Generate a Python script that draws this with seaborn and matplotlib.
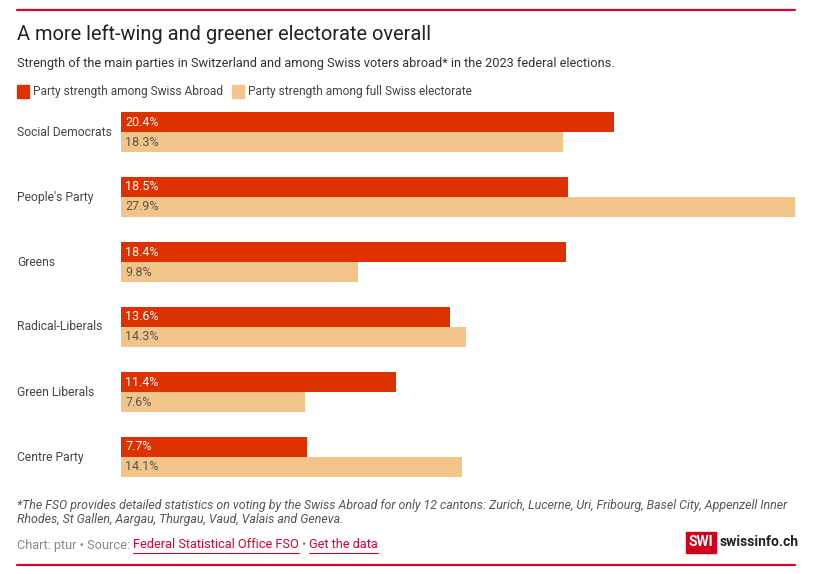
import pandas as pd
import numpy as np
import matplotlib.pyplot as plt
import seaborn as sns
from matplotlib.patches import Rectangle
from matplotlib.lines import Line2D

# Data
parties = ['Social Democrats', "People's Party", 'Greens', 'Radical-Liberals',
           'Green Liberals', 'Centre Party']
abroad = [20.4, 18.5, 18.4, 13.6, 11.4, 7.7]
full = [18.3, 27.9, 9.8, 14.3, 7.6, 14.1]
series = ['Party strength among Swiss Abroad', 'Party strength among full Swiss electorate']

RED = '#de3100'
BEIGE = '#f3c48a'
LINE_RED = '#e2002a'
W, H = 813, 574

df = pd.DataFrame({
    'party': parties * 2,
    'value': abroad + full,
    'series': [series[0]] * len(parties) + [series[1]] * len(parties),
})

sns.set_theme(style='white')
plt.rcParams['font.family'] = ['Roboto', 'DejaVu Sans']

fig = plt.figure(figsize=(W / 100, H / 100), dpi=100)
ax = fig.add_axes([121 / W, 1 - 489.5 / H, 674 / W, 390 / H])

sns.barplot(data=df, y='party', x='value', hue='series', orient='h',
            palette=[RED, BEIGE], width=40 / 65, saturation=1, ax=ax,
            legend=False, edgecolor='none', linewidth=0)

ax.set_xlim(0, max(full + abroad))
ax.set_ylim(len(parties) - 0.5, -0.5)
ax.set_xlabel('')
ax.set_ylabel('')
ax.set_xticks([])
ax.set_yticks([])
for s in ax.spines.values():
    s.set_visible(False)

# value labels inside bars
for cont, color in zip(ax.containers, ['white', '#555555']):
    for bar in cont:
        w = bar.get_width()
        ax.annotate(f'{w:.1f}%', (0, bar.get_y() + bar.get_height() / 2),
                    xytext=(3, 0), textcoords='offset points',
                    va='center', ha='left', fontsize=9, color=color)

# category labels at left edge
for i, p in enumerate(parties):
    ax.text((17 - 121) / 674, i, p, transform=ax.get_yaxis_transform(),
            va='center', ha='left', fontsize=8.7, color='#444444')

# header
fig.add_artist(Line2D([17 / W, 795 / W], [1 - 10 / H] * 2, color=LINE_RED, lw=1.6))
fig.text(17 / W, 1 - 34 / H, 'A more left-wing and greener electorate overall',
         fontsize=14.4, color='#222222', va='center', ha='left')
fig.text(17 / W, 1 - 64 / H,
         'Strength of the main parties in Switzerland and among Swiss voters abroad* in the 2023 federal elections.',
         fontsize=9.2, color='#333333', va='center', ha='left')

# legend
for x0, color, label in [(17, RED, series[0]), (232, BEIGE, series[1])]:
    fig.patches.append(Rectangle((x0 / W, 1 - 98 / H), 12 / W, 13 / H,
                                 transform=fig.transFigure, color=color))
    fig.text((x0 + 16) / W, 1 - 91.5 / H, label, fontsize=8.6, color='#444444',
             va='center', ha='left')

# footnote
fig.text(17 / W, 1 - 505 / H,
         '*The FSO provides detailed statistics on voting by the Swiss Abroad for only 12 cantons: '
         'Zurich, Lucerne, Uri, Fribourg, Basel City, Appenzell Inner',
         fontsize=8.9, style='italic', color='#555555', va='center', ha='left')
fig.text(17 / W, 1 - 520 / H, 'Rhodes, St Gallen, Aargau, Thurgau, Vaud, Valais and Geneva.',
         fontsize=8.9, style='italic', color='#555555', va='center', ha='left')

# source line with underlined links
fig.canvas.draw()
renderer = fig.canvas.get_renderer()
x = 17
y = 1 - 545 / H
parts = [('Chart: ptur • Source: ', '#888888', False),
         ('Federal Statistical Office FSO', LINE_RED, True),
         (' • ', '#888888', False),
         ('Get the data', LINE_RED, True)]
for txt, color, link in parts:
    t = fig.text(x / W, y, txt, fontsize=9.2, color=color, va='center', ha='left')
    bb = t.get_window_extent(renderer)
    if link:
        fig.add_artist(Line2D([x / W, (x + bb.width) / W], [bb.y0 / H - 1 / H] * 2,
                              color=color, lw=0.8))
    x += bb.width

# logo
fig.patches.append(Rectangle((686 / W, 1 - 553 / H), 30 / W, 21 / H,
                             transform=fig.transFigure, color='#d0021b'))
fig.text(701 / W, 1 - 542.5 / H, 'SWI', fontsize=10, fontweight='bold', color='white',
         va='center', ha='center')
fig.text(720 / W, 1 - 542.5 / H, 'swissinfo.ch', fontsize=10, fontweight='bold',
         color='#222222', va='center', ha='left')

fig.add_artist(Line2D([17 / W, 795 / W], [1 - 565 / H] * 2, color=LINE_RED, lw=1.6))

fig.savefig('out.png', dpi=100)
